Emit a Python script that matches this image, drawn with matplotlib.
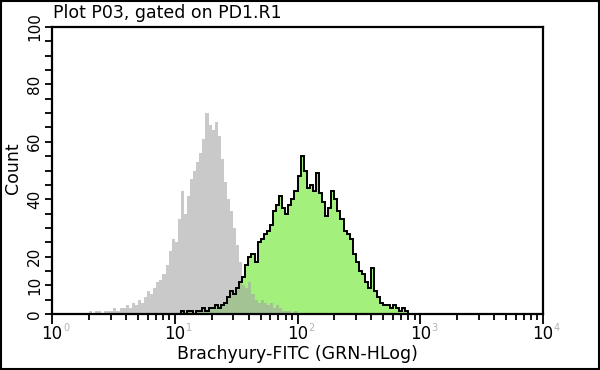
import numpy as np
import matplotlib
matplotlib.use('Agg')
import matplotlib.pyplot as plt
from matplotlib.ticker import FixedLocator, FixedFormatter, NullFormatter
from matplotlib.patches import Rectangle
import matplotlib.transforms as mtransforms

# histogram data (log channels, 0.025 decade per bin)
bin_w = 0.025
grey_start = 0.25   # isotype control, starts at 10^0.25
grey_counts = [0, 0, 1, 0, 1, 1, 0, 1, 1, 1,
               2, 1, 2, 2, 3, 2, 4, 3, 5, 4,
               6, 8, 7, 9, 11, 12, 14, 17, 22, 26,
               25, 33, 43, 35, 41, 47, 50, 53, 56, 61,
               70, 66, 64, 67, 62, 54, 46, 40, 36, 30,
               24, 18, 10, 9, 11, 7, 5, 4, 5, 4,
               3, 4, 2, 3, 2, 1, 1, 1, 0, 1,
               0]
green_start = 1.0   # Brachyury stained sample
green_counts = [0, 0, 1, 0, 1, 1, 0, 1, 1, 2,
                1, 2, 2, 3, 2, 3, 4, 6, 8, 7,
                9, 11, 13, 17, 20, 21, 18, 25, 26, 28,
                29, 31, 36, 38, 41, 37, 35, 38, 40, 43,
                48, 55, 50, 44, 45, 43, 49, 42, 39, 34,
                37, 43, 40, 36, 33, 29, 28, 26, 21, 18,
                15, 14, 11, 9, 16, 8, 6, 4, 3, 3,
                2, 3, 2, 1, 2, 1, 0]

title = 'Plot P03, gated on PD1.R1'
xlabel = 'Brachyury-FITC (GRN-HLog)'
ylabel = 'Count'
y_major = [0, 10, 20, 40, 60, 80, 100]
x_decades = [0, 1, 2, 3, 4]

plt.rcParams['font.family'] = 'DejaVu Sans'

fig = plt.figure(figsize=(6, 3.7), dpi=100)
ax = fig.add_axes([52 / 600, 1 - 314 / 370, (543 - 52) / 600, (314 - 27) / 370])

g_edges = 10 ** (grey_start + bin_w * np.arange(len(grey_counts) + 1))
s_edges = 10 ** (green_start + bin_w * np.arange(len(green_counts) + 1))

ax.stairs(green_counts, s_edges, fill=True, color='#a4f07c', zorder=1)
ax.stairs(grey_counts, g_edges, fill=True, color='#a5a5a5', alpha=0.6, zorder=2)
ax.stairs(green_counts, s_edges, color='black', lw=1.4, zorder=3)

ax.set_xscale('log')
ax.set_xlim(1, 1e4)
ax.set_ylim(0, 100)

# x ticks: "10" plus a faint exponent
ax.xaxis.set_major_locator(FixedLocator([10.0 ** d for d in x_decades]))
ax.xaxis.set_major_formatter(FixedFormatter(['10'] * len(x_decades)))
minors = [m * 10.0 ** d for d in x_decades[:-1] for m in range(2, 10)]
ax.xaxis.set_minor_locator(FixedLocator(minors))
ax.xaxis.set_minor_formatter(NullFormatter())
base = mtransforms.blended_transform_factory(ax.transData, ax.transAxes)
exp_tr = mtransforms.offset_copy(base, fig=fig, x=11, y=-9, units='dots')
for d in x_decades:
    ax.text(10.0 ** d, 0, str(d), transform=exp_tr, clip_on=False,
            fontsize=7, color='#b4b4b4', ha='left', va='top')

ax.yaxis.set_major_locator(FixedLocator(y_major))
ax.yaxis.set_minor_locator(FixedLocator(list(range(0, 101, 5))))
ax.yaxis.set_minor_formatter(NullFormatter())

ax.tick_params(axis='x', which='major', length=7, width=1.3, labelsize=12, pad=1)
ax.tick_params(axis='x', which='minor', length=4, width=1.3)
ax.tick_params(axis='y', which='both', length=5, width=1.3, labelsize=11, pad=2)
plt.setp(ax.get_yticklabels(), rotation=90, va='center')

for sp in ax.spines.values():
    sp.set_linewidth(1.6)

fig.text(53 / 600, 1 - 13 / 370, title, ha='left', va='center', fontsize=12.5)
fig.text(13 / 600, 1 - 168 / 370, ylabel, rotation=90, ha='center', va='center', fontsize=12.5)
fig.text(297 / 600, 1 - 354 / 370, xlabel, ha='center', va='center', fontsize=12.5)

fig.patches.append(Rectangle((0.002, 0.003), 0.996, 0.994, transform=fig.transFigure,
                             fill=False, edgecolor='black', lw=1.5))

fig.savefig('out.png', dpi=100)
